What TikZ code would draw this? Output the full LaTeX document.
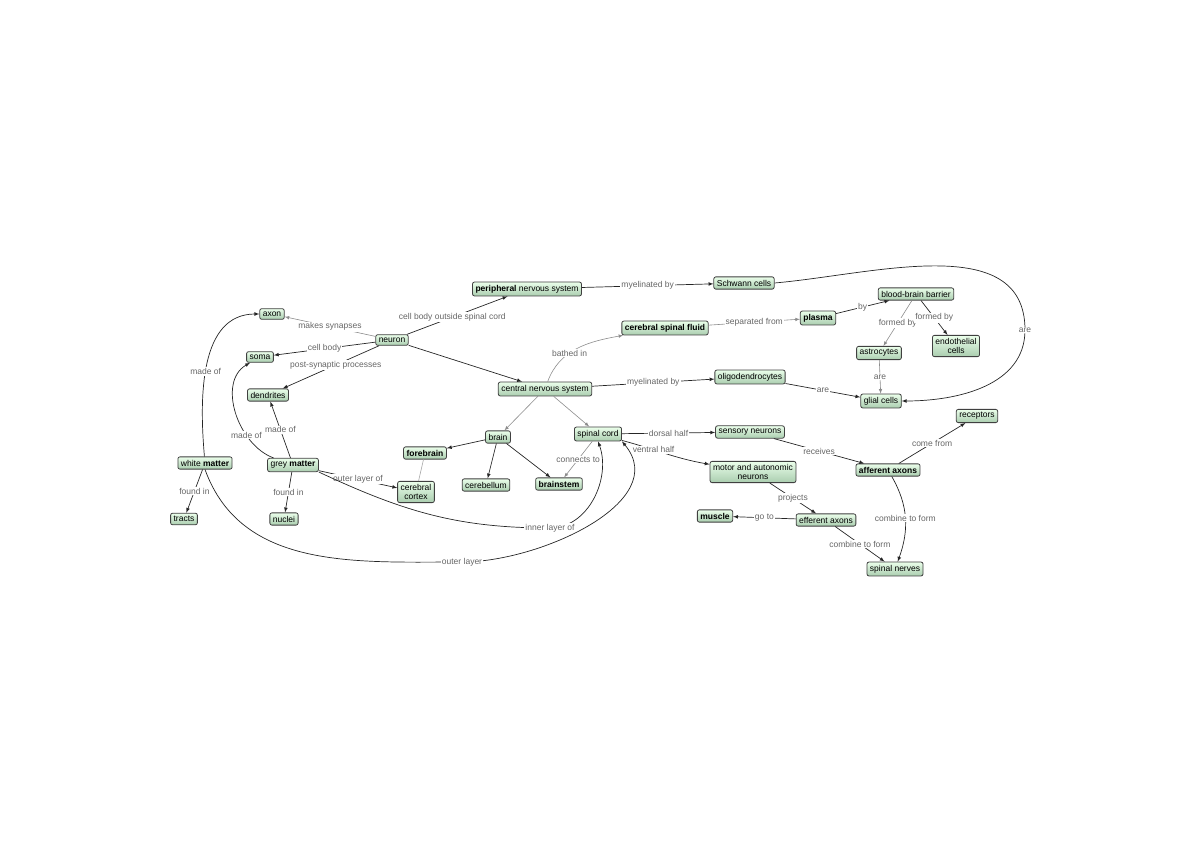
\documentclass[tikz,border=0pt]{standalone}
\usepackage{fontspec}
\setmainfont{Liberation Sans}
\begin{document}
\begin{tikzpicture}[x=1pt,y=-1pt,
  box/.style={draw=black!75,line width=0.8pt,rounded corners=2pt,top color=green!8!white,bottom color={rgb,255:red,170;green,205;blue,175},font=\fontsize{8.5}{9}\selectfont,inner sep=3pt,align=center},
  lab/.style={fill=white,inner sep=1pt,text=black!60,font=\fontsize{8.5}{9}\selectfont},
  ar/.style={-latex,line width=0.7pt,black!85},
  gl/.style={-latex,line width=0.6pt,black!45}]
\useasboundingbox (0,0) rectangle (1200,848);
\node[box] (pns) at (527,289) {\textbf{peripheral} nervous system};
\node[box] (sch) at (744,283) {Schwann cells};
\node[box] (axon) at (272,314) {axon};
\node[box] (neu) at (392,340) {neuron};
\node[box] (soma) at (260,357) {soma};
\node[box] (den) at (268,395) {dendrites};
\node[box] (csf) at (665,328) {\textbf{cerebral spinal fluid}};
\node[box] (pla) at (818,318) {\textbf{plasma}};
\node[box] (bbb) at (916,294) {blood-brain barrier};
\node[box] (endo) at (956,346) {endothelial\\cells};
\node[box] (ast) at (879,353) {astrocytes};
\node[box] (cns) at (545,389) {central nervous system};
\node[box] (oli) at (750,377) {oligodendrocytes};
\node[box] (gli) at (881,401) {glial cells};
\node[box] (rec) at (977,416) {receptors};
\node[box] (brain) at (498,437) {brain};
\node[box] (fore) at (425,453) {\textbf{forebrain}};
\node[box] (sc) at (598,434) {spinal cord};
\node[box] (sen) at (750,432) {sensory neurons};
\node[box] (wm) at (205,463) {white \textbf{matter}};
\node[box] (gm) at (293,465) {grey \textbf{matter}};
\node[box] (cc) at (416,492) {cerebral\\cortex};
\node[box] (cer) at (486,485) {cerebellum};
\node[box] (bs) at (559,484) {\textbf{brainstem}};
\node[box] (mot) at (753,472) {motor and autonomic\\neurons};
\node[box] (aff) at (888,470) {\textbf{afferent axons}};
\node[box] (tra) at (184,519) {tracts};
\node[box] (nuc) at (284,519) {nuclei};
\node[box] (mus) at (715,516) {\textbf{muscle}};
\node[box] (eff) at (826,520) {efferent axons};
\node[box] (spn) at (895,569) {spinal nerves};

\draw[ar] (neu) -- node[lab,pos=0.45]{cell body outside spinal cord} (pns);
\draw[gl] (neu) -- node[lab,pos=0.5]{makes synapses} (axon);
\draw[ar] (neu) -- node[lab,pos=0.5]{cell body} (soma);
\draw[ar] (neu) -- node[lab,pos=0.45]{post-synaptic processes} (den);
\draw[ar] (neu) -- (cns);
\draw[ar] (pns) -- node[lab]{myelinated by} (sch);
\draw[gl] (cns) to[out=70,in=190] node[lab,pos=0.4]{bathed in} (csf);
\draw[gl] (csf) -- node[lab]{separated from} (pla);
\draw[ar] (pla) -- node[lab]{by} (bbb);
\draw[gl] (bbb) -- node[lab]{formed by} (ast);
\draw[ar] (bbb) -- node[lab]{formed by} (endo);
\draw[gl] (ast) -- node[lab]{are} (gli);
\draw[ar] (sch.east) to[out=5,in=90] (1025,330) node[lab]{are} to[out=-90,in=0] (gli.east);
\draw[ar] (cns) -- node[lab]{myelinated by} (oli);
\draw[ar] (oli) -- node[lab]{are} (gli);
\draw[gl] (cns) -- (brain);
\draw[gl] (cns) -- (sc);
\draw[ar] (brain) -- (fore);
\draw[ar] (brain) -- (cer);
\draw[ar] (brain) -- (bs);
\draw[gl] (sc) -- node[lab,pos=0.5]{connects to} (bs);
\draw[line width=0.6pt,black!35] (fore) -- (cc);
\draw[ar] (sc) -- node[lab]{dorsal half} (sen);
\draw[ar] (sc) to[out=-15,in=170] node[lab,pos=0.35]{ventral half} (mot);
\draw[ar] (sen) -- node[lab]{receives} (aff);
\draw[ar] (aff) -- node[lab]{come from} (rec);
\draw[ar] (aff) to[out=-60,in=70] node[lab,pos=0.5]{combine to form} (spn);
\draw[ar] (mot) -- node[lab]{projects} (eff);
\draw[ar] (eff) -- node[lab]{go to} (mus);
\draw[ar] (eff) -- node[lab]{combine to form} (spn);
\draw[ar] (wm) to[out=95,in=180] node[lab,pos=0.45]{made of} (axon);
\draw[ar] (wm) -- node[lab]{found in} (tra);
\draw[ar] (gm) to[out=160,in=210] node[lab,pos=0.3]{made of} (soma);
\draw[ar] (gm) -- node[lab]{made of} (den);
\draw[ar] (gm) -- node[lab]{found in} (nuc);
\draw[ar] (gm) -- node[lab]{outer layer of} (cc);
\draw[ar] (gm.south east) to[out=-25,in=180] (550,528) node[lab]{inner layer of} to[out=0,in=-70] (sc.south);
\draw[ar] (wm.south) to[out=-70,in=180] (462,562) node[lab]{outer layer} to[out=0,in=-50] (sc.south east);
\end{tikzpicture}
\end{document}
